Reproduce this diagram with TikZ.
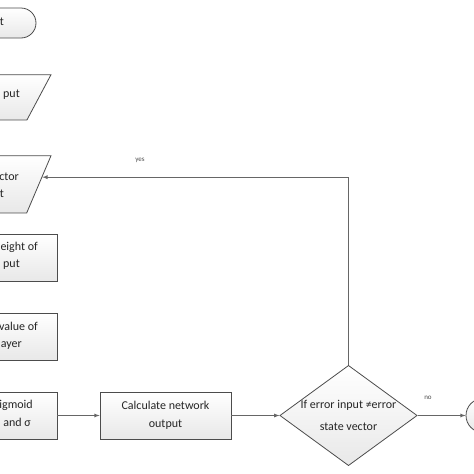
\documentclass[tikz,border=0pt]{standalone}
\usepackage{fontspec}
\setmainfont{Carlito}
\usetikzlibrary{shapes.geometric,calc}
\begin{document}
\begin{tikzpicture}[x=1pt, y=-1pt, >=latex]
        \tikzset{
  shaded/.style={
    draw=black!70,
    line width=.8pt,
    top color=white,
    bottom color=black!9
  },
  flowbox/.style={
    shaded,
    rectangle,
    minimum width=131pt,
    minimum height=47pt,
    inner sep=0pt,
    text=black!85,
    font=\fontsize{12}{18}\selectfont,
    align=center
  },
  termbox/.style={
    shaded,
    rectangle,
    rounded corners=15pt,
    minimum width=100pt,
    minimum height=30pt
  },
  iobox/.style={
    shaded,
    trapezium,
    trapezium stretches body=true,
    minimum width=120pt,
    inner sep=0pt
  },
  decision/.style={
    shaded,
    diamond,
    aspect=1.37,
    minimum width=137pt,
    minimum height=100pt,
    inner sep=0pt,
    text=black!85,
    font=\fontsize{12}{18}\selectfont,
    align=center
  },
  endnode/.style={
    shaded,
    circle,
    minimum size=34pt
  },
  frag/.style={
    anchor=mid east,
    inner sep=0pt,
    text=black!85,
    font=\fontsize{12}{14}\selectfont
  },
  tag/.style={
    inner sep=0pt,
    text=black!70,
    font=\fontsize{7}{8}\selectfont
  },
  conn/.style={
    draw=black!60,
    line width=.8pt
  }
}

\useasboundingbox (0,0) rectangle (474,474);
\clip (0,0) rectangle (474,474);

% column on the left, cut by the frame
\node [termbox] (start) at (-14,23) {};
\node [iobox, text height=22.6pt, text depth=22.6pt, trapezium left angle=62, trapezium right angle=118] (input) at (-9,97.3) {};
\node [iobox, text height=28.6pt, text depth=28.6pt, trapezium left angle=67, trapezium right angle=113] (vector) at (-9,184.3) {};

\foreach \n/\yy in {weight/257.5, value/336.5, sigma/415.5}
  \node [flowbox] (\n) at (-8.5,\yy) {};

\foreach \t/\xx/\yy [count=\i] in {t/4/23, put/20/95, ctor/19/178, t/4/195, eight of/38/248, put/20/265, value of/38/328, ayer/22/345, igmoid/33/406, and σ/31/424}
  \node [frag] (text-\i) at (\xx,\yy) {\t};

% bottom row
\node [flowbox] (calc) at (165.5,415.5) {Calculate network\\output};
\node [decision] (check) at (348.5,415.5) {If error input ≠error\\[4pt]state vector};
\node [endnode] (stop) at (483,415.5) {};

\node [tag] (yes) at (140,160) {yes};
\node [tag] (no) at (428,398) {no};

\draw [conn, ->] (sigma) -- (calc);
\draw [conn, ->] (calc) -- (check);
\draw [conn, ->] (check) -- (stop);
\draw [conn, ->] (check.north) |- ($(vector.top right corner)!.377!(vector.bottom right corner)$);
      \end{tikzpicture}
\end{document}
